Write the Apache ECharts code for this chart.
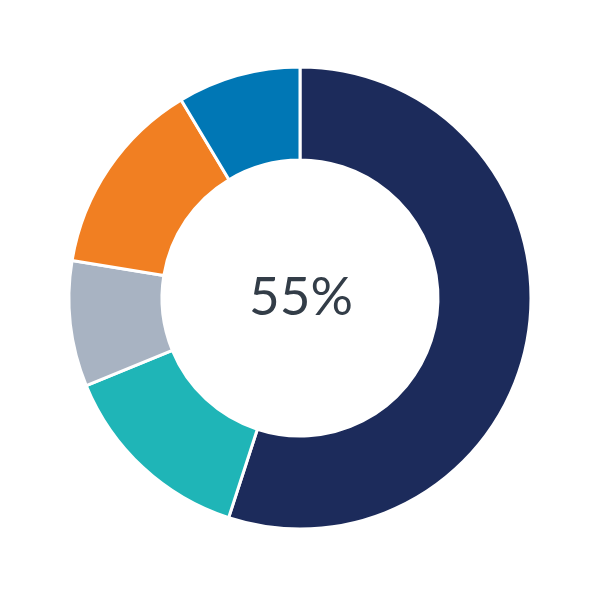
<!DOCTYPE html>
<html>
<head>
<meta charset="utf-8">
<script src="https://cdn.jsdelivr.net/npm/echarts@6/dist/echarts.min.js"></script>
<style>
  html, body { margin: 0; padding: 0; background: #fff; }
  #chart { width: 600px; height: 599px; }
</style>
</head>
<body>
<div id="chart"></div>
<script>
// slices clockwise from 12 o'clock
var names = ['A', 'B', 'C', 'D', 'E'];
var values = [55, 13.8, 8.8, 13.8, 8.6];
var colors = ['#1c2b5b', '#1fb5b7', '#a8b3c2', '#f17f22', '#0077b5'];
var centerLabel = '55%';

var myChart = echarts.init(document.getElementById('chart'));

var option = {
  animation: false,
  graphic: [{
    type: 'text',
    style: {
      text: centerLabel,
      fontFamily: 'Lato',
      fontSize: 53,
      fill: '#333d48',
      x: 301,
      y: 298,
      textAlign: 'center',
      textVerticalAlign: 'middle'
    }
  }],
  series: [{
    type: 'pie',
    center: [300, 298],
    radius: [138, 231],
    startAngle: 90,
    clockwise: true,
    label: { show: false },
    labelLine: { show: false },
    emphasis: { disabled: true },
    itemStyle: {
      borderColor: '#ffffff',
      borderWidth: 3
    },
    data: names.map(function (n, i) {
      return { name: n, value: values[i], itemStyle: { color: colors[i] } };
    })
  }]
};

myChart.setOption(option);
</script>
</body>
</html>
